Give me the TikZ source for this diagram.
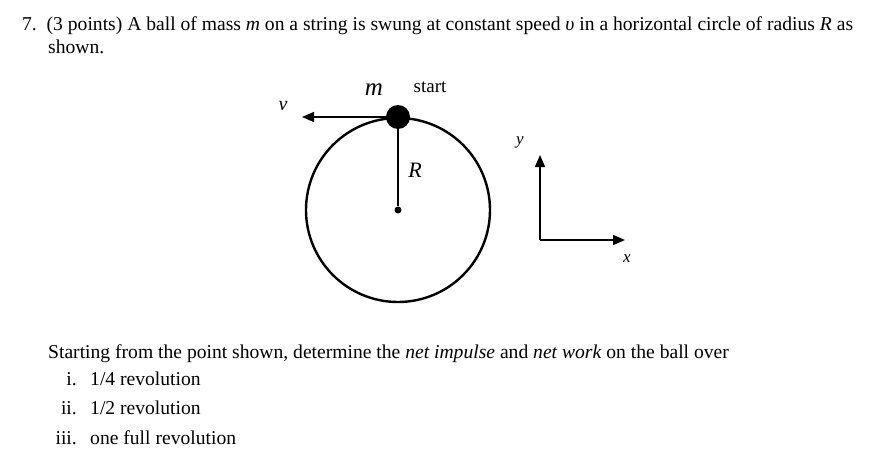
\documentclass[tikz,border=0pt]{standalone}
\usepackage{fontspec}
\setmainfont{Liberation Serif}
\usetikzlibrary{arrows.meta}
\begin{document}
\begin{tikzpicture}[x=1pt,y=-1pt,
  txt/.style={anchor=base west,inner sep=0pt,font=\fontsize{19.6}{22}\selectfont},
  lbl/.style={inner sep=0pt,font=\fontsize{19}{20}\selectfont},
  ln/.style={line width=1.6pt},
  arr/.style={ln,-{Triangle[length=12pt,width=10pt]}}]
\useasboundingbox (0,0) rectangle (887,460);
\node[txt] (t1) at (22,31) {7.\ \ (3 points) A ball of mass \textit{m} on a string is swung at constant speed \textit{υ} in a horizontal circle of radius \textit{R} as};
\node[txt] (t2) at (48,54) {shown.};
\coordinate (c) at (398,210);
\draw[line width=2.4pt] (c) circle[radius=92];
\node[circle,fill,inner sep=0pt,minimum size=24pt] (ball) at (398,117) {};
\node[circle,fill,inner sep=0pt,minimum size=7pt] (cd) at (c) {};
\draw[ln] (ball) -- (cd);
\coordinate (vend) at (302,117);
\draw[arr] (ball.west) -- (vend);
\node[lbl,font=\fontsize{20}{20}\selectfont\itshape] (v) at (283,106) {v};
\node[lbl,font=\fontsize{25}{20}\selectfont\itshape] (m) at (374,90) {m};
\node[lbl] (start) at (430,87) {start};
\node[lbl,font=\fontsize{22}{20}\selectfont\itshape] (R) at (415,170) {R};
\coordinate (o) at (540,240);
\coordinate (yend) at (540,155);
\coordinate (xend) at (625,240);
\draw[arr] (o) -- (yend);
\draw[arr] (o) -- (xend);
\node[lbl,font=\fontsize{17}{20}\selectfont\itshape] (y) at (520,142) {y};
\node[lbl,font=\fontsize{17}{20}\selectfont\itshape] (x) at (627,259) {x};
\node[txt] (s) at (48,358) {Starting from the point shown, determine the \textit{net impulse} and \textit{net work} on the ball over};
\node[txt,anchor=base east] (i1) at (77,385) {i.};
\node[txt] (r1) at (90,385) {1/4 revolution};
\node[txt,anchor=base east] (i2) at (77,414) {ii.};
\node[txt] (r2) at (90,414) {1/2 revolution};
\node[txt,anchor=base east] (i3) at (77,444) {iii.};
\node[txt] (r3) at (90,444) {one full revolution};
\end{tikzpicture}
\end{document}
